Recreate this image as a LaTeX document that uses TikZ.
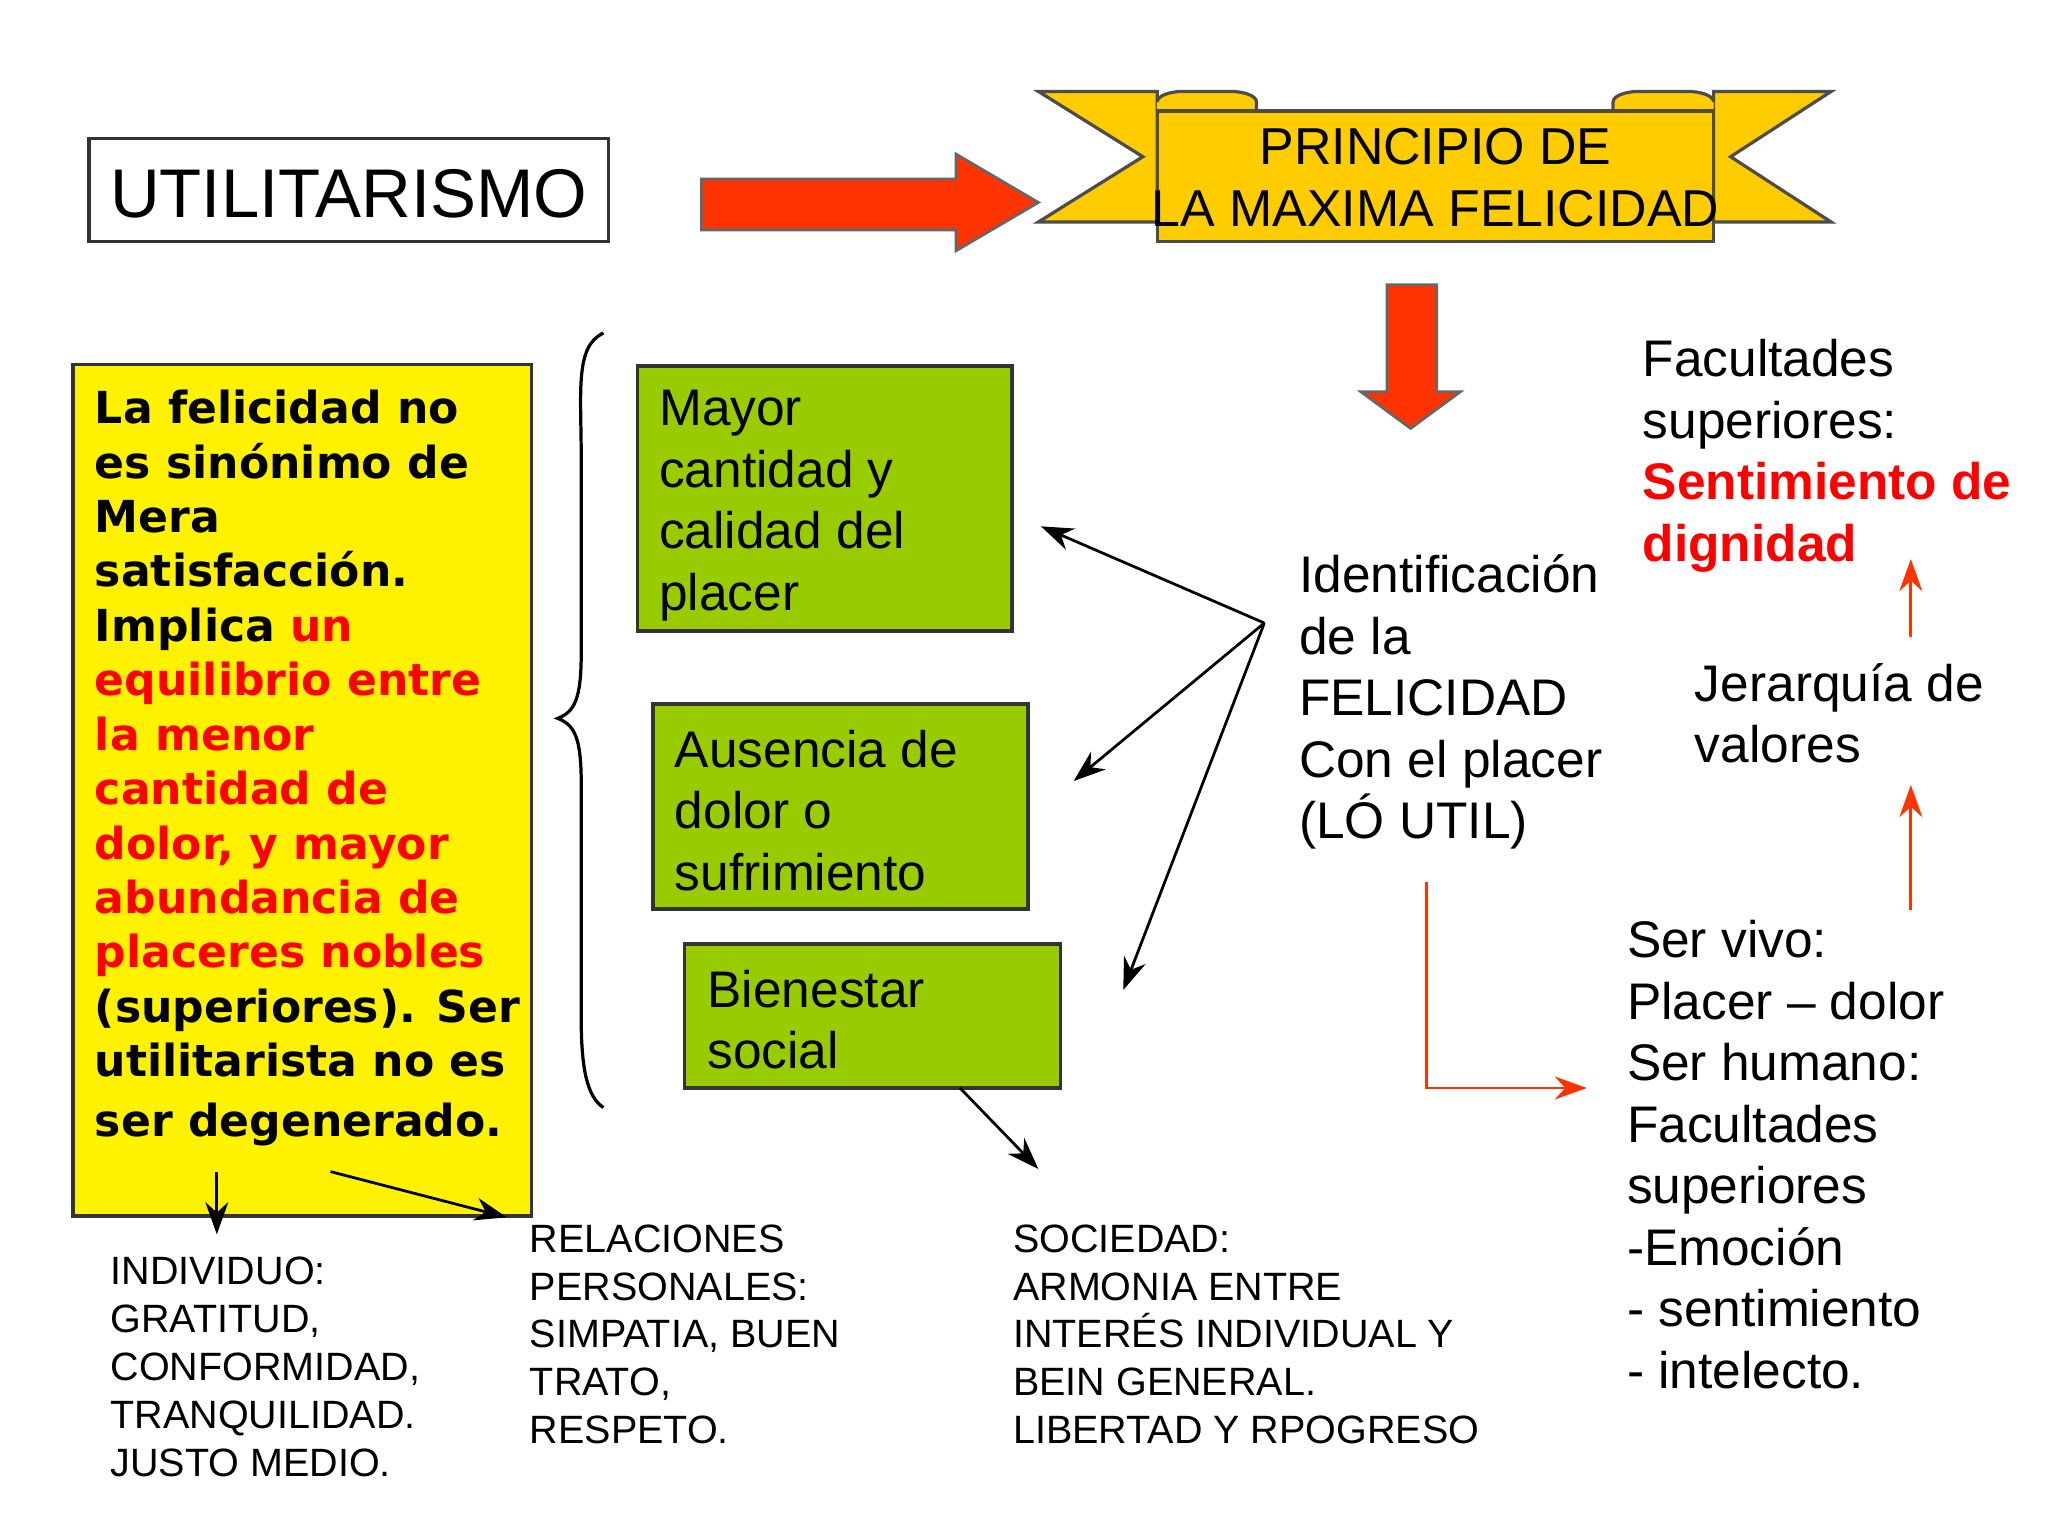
\documentclass[tikz,border=0pt]{standalone}
\usepackage{fontspec}
\setmainfont{Liberation Sans}
\newfontfamily\heavy{DejaVu Sans}
\usetikzlibrary{arrows.meta}
\definecolor{rojo}{HTML}{FF3300}
\definecolor{amar}{HTML}{FFCC00}
\definecolor{verde}{HTML}{99CC00}
\begin{document}
\begin{tikzpicture}[x=0.01cm,y=-0.01cm,
  txt/.style={anchor=north west,inner sep=0,align=left},
  gbox/.style={draw=black!80,fill=verde,line width=0.8pt},
  thin/.style={-{Stealth[length=7pt,width=5pt]},line width=0.6pt},
  rthin/.style={-{Stealth[length=7pt,width=5pt]},line width=0.6pt,draw=rojo}]
\useasboundingbox (0,0) rectangle (1568,1176);
% title box
\draw[draw=black!80,line width=0.8pt] (68,106) rectangle (466,185);
\node[inner sep=0,font=\fontsize{15}{18}\selectfont] (util) at (267,148) {UTILITARISMO};
% big red arrow
\draw[fill=rojo,draw=black!60,line width=0.6pt] (537,137)--(732,137)--(732,118)--(795,155)--(732,192)--(732,176)--(537,176)--cycle;
% banner
\draw[fill=amar,draw=black!70,line width=0.7pt] (795,70)--(886,70)--(886,170)--(795,170)--(875,120)--cycle;
\draw[fill=amar,draw=black!70,line width=0.7pt] (1402,70)--(1312,70)--(1312,170)--(1402,170)--(1325,120)--cycle;
\draw[fill=amar,draw=black!70,line width=0.7pt] (886,78) arc[start angle=180,end angle=90,x radius=20,y radius=-8] -- (942,70) arc[start angle=90,end angle=0,x radius=20,y radius=-8] -- (962,85) -- (886,85);
\draw[fill=amar,draw=black!70,line width=0.7pt] (1312,78) arc[start angle=0,end angle=90,x radius=20,y radius=-8] -- (1255,70) arc[start angle=90,end angle=180,x radius=20,y radius=-8] -- (1235,85) -- (1312,85);
\draw[draw=black!70,fill=amar,line width=0.7pt] (886,85) rectangle (1312,185);
\node[inner sep=0,align=center,font=\fontsize{11.3}{13.6}\selectfont] (princ) at (1099,136) {PRINCIPIO DE\\LA MAXIMA FELICIDAD};
% down arrow
\draw[fill=rojo,draw=black!60,line width=0.6pt] (1062,218)--(1100,218)--(1100,300)--(1118,300)--(1080,328)--(1042,300)--(1062,300)--cycle;
% yellow box
\draw[fill=yellow,draw=black!80,line width=0.8pt] (56,279) rectangle (407,931);
\node[txt,font=\heavy\bfseries\fontsize{9.6}{11.85}\selectfont] (yel) at (72,298) {La felicidad no\\es sinónimo de\\Mera\\satisfacción.\\Implica \textcolor{red}{un}\\\textcolor{red}{equilibrio entre}\\\textcolor{red}{la menor}\\\textcolor{red}{cantidad de}\\\textcolor{red}{dolor, y mayor}\\\textcolor{red}{abundancia de}\\\textcolor{red}{placeres nobles}\\(superiores). Ser\\utilitarista no es\\[1.2pt]ser degenerado.};
% brace
\draw[line width=0.7pt] (462,255) .. controls (440,265) and (445,300) .. (445,350) -- (445,500) .. controls (445,535) and (440,545) .. (427,550) .. controls (440,555) and (445,565) .. (445,600) -- (445,780) .. controls (445,820) and (450,840) .. (462,848);
% green boxes
\draw[gbox] (488,280) rectangle (775,483);
\node[txt,font=\fontsize{11.2}{13.4}\selectfont] (g1) at (504,298) {Mayor\\cantidad y\\calidad del\\placer};
\draw[gbox] (500,539) rectangle (787,696);
\node[txt,font=\fontsize{11.2}{13.4}\selectfont] (g2) at (516,558) {Ausencia de\\dolor o\\sufrimiento};
\draw[gbox] (524,723) rectangle (812,833);
\node[txt,font=\fontsize{11.2}{13.4}\selectfont] (g3) at (541,742) {Bienestar\\social};
% identification
\node[txt,font=\fontsize{11.2}{13.4}\selectfont] (ident) at (994,424) {Identificación\\de la\\FELICIDAD\\Con el placer\\(LÓ UTIL)};
\coordinate (hub) at (968,477);
\coordinate (e1) at (797,403);
\coordinate (e2) at (822,598);
\coordinate (e3) at (860,758);
\draw[thin] (hub)--(e1);
\draw[thin] (hub)--(e2);
\draw[thin] (hub)--(e3);
\coordinate (b1) at (735,833);
\coordinate (b2) at (795,895);
\draw[thin] (b1)--(b2);
% right
\node[txt,font=\fontsize{11.2}{13.4}\selectfont] (fac) at (1257,259) {Facultades\\superiores:\\\textcolor{red}{\bfseries Sentimiento de}\\\textcolor{red}{\bfseries dignidad}};
\node[txt,font=\fontsize{11.2}{13.4}\selectfont] (jer) at (1297,507) {Jerarquía de\\valores};
\node[txt,font=\fontsize{11.2}{13.4}\selectfont] (ser) at (1245,704) {Ser vivo:\\Placer – dolor\\Ser humano:\\Facultades\\superiores\\-Emoción\\- sentimiento\\- intelecto.};
\coordinate (r1) at (1092,675);
\coordinate (r2) at (1215,833);
\draw[rthin] (r1) |- (r2);
\coordinate (u1) at (1463,697);
\coordinate (u2) at (1463,601);
\coordinate (u3) at (1463,488);
\coordinate (u4) at (1463,428);
\draw[rthin] (u1)--(u2);
\draw[rthin] (u3)--(u4);
% bottom
\coordinate (y1) at (166,897);
\coordinate (y2) at (166,945);
\coordinate (y3) at (253,897);
\coordinate (y4) at (388,932);
\draw[thin] (y1)--(y2);
\draw[thin] (y3)--(y4);
\node[txt,font=\fontsize{8.6}{10.4}\selectfont] (ind) at (84,962) {INDIVIDUO:\\GRATITUD,\\CONFORMIDAD,\\TRANQUILIDAD.\\JUSTO MEDIO.};
\node[txt,font=\fontsize{8.6}{10.4}\selectfont] (rel) at (405,937) {RELACIONES\\PERSONALES:\\SIMPATIA, BUEN\\TRATO,\\RESPETO.};
\node[txt,font=\fontsize{8.6}{10.4}\selectfont] (soc) at (775,937) {SOCIEDAD:\\ARMONIA ENTRE\\INTERÉS INDIVIDUAL Y\\BEIN GENERAL.\\LIBERTAD Y RPOGRESO};
\end{tikzpicture}
\end{document}
